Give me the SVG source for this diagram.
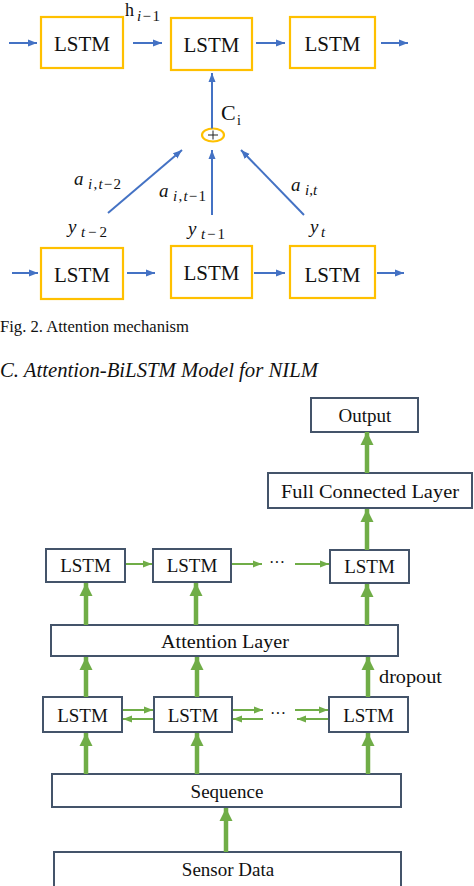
<svg xmlns="http://www.w3.org/2000/svg" width="474" height="886" viewBox="0 0 474 886">
<style>
text{fill:#111}
.ob{fill:#fff;stroke:#FFC000;stroke-width:2.2}
.gb{fill:#fff;stroke:#44546A;stroke-width:2}
.bl{stroke:#4472C4;stroke-width:2;fill:none}
.gt{stroke:#70AD47;stroke-width:2;fill:none}
.gk{stroke:#70AD47;stroke-width:4.5;fill:none}
.mi{font-style:italic}
</style>
<defs>
<marker id="ab" markerUnits="userSpaceOnUse" markerWidth="10" markerHeight="10" viewBox="0 0 10 10" refX="9" refY="5" orient="auto"><path d="M0,1.5 L9,5 L0,8.5 z" fill="#4472C4"/></marker>
<marker id="ag" markerUnits="userSpaceOnUse" markerWidth="10" markerHeight="10" viewBox="0 0 10 10" refX="9" refY="5" orient="auto"><path d="M0,1.5 L9,5 L0,8.5 z" fill="#70AD47"/></marker>
<marker id="agk" markerUnits="userSpaceOnUse" markerWidth="14" markerHeight="14" viewBox="0 0 14 14" refX="13" refY="7" orient="auto"><path d="M0,0.5 L13,7 L0,13.5 z" fill="#70AD47"/></marker>
</defs>

<!-- Figure 2: attention mechanism -->
<g id="top-lstm-1"><rect class="ob" x="41" y="17" width="82" height="51"/><text font-family="Liberation Serif" font-size="21" text-anchor="middle" x="82" y="51">LSTM</text></g>
<g id="top-lstm-2"><rect class="ob" x="171" y="18" width="81" height="52"/><text font-family="Liberation Serif" font-size="21" text-anchor="middle" x="211.5" y="52">LSTM</text></g>
<g id="top-lstm-3"><rect class="ob" x="290" y="17" width="85" height="51"/><text font-family="Liberation Serif" font-size="21" text-anchor="middle" x="332.5" y="51">LSTM</text></g>
<g id="bot-lstm-1"><rect class="ob" x="41" y="248" width="82" height="51"/><text font-family="Liberation Serif" font-size="21" text-anchor="middle" x="82" y="282">LSTM</text></g>
<g id="bot-lstm-2"><rect class="ob" x="171" y="246" width="81" height="52"/><text font-family="Liberation Serif" font-size="21" text-anchor="middle" x="211.5" y="280">LSTM</text></g>
<g id="bot-lstm-3"><rect class="ob" x="290" y="246" width="85" height="52"/><text font-family="Liberation Serif" font-size="21" text-anchor="middle" x="332.5" y="282">LSTM</text></g>
<g id="sum-node">
<ellipse cx="213" cy="135" rx="11" ry="6.5" fill="#fff" stroke="#FFC000" stroke-width="2.2"/>
<path d="M208,135 H218 M213,130.5 V139.5" stroke="#222" stroke-width="1"/>
</g>

<g id="connectors-fig2">
<line class="bl" x1="9" y1="43" x2="37" y2="43" marker-end="url(#ab)"/>
<line class="bl" x1="133" y1="43" x2="162" y2="43" marker-end="url(#ab)"/>
<line class="bl" x1="256" y1="43" x2="285" y2="43" marker-end="url(#ab)"/>
<line class="bl" x1="381" y1="43" x2="408" y2="43" marker-end="url(#ab)"/>
<line class="bl" x1="212" y1="128.5" x2="212" y2="73" marker-end="url(#ab)"/>
<line class="bl" x1="108" y1="213" x2="182" y2="150" marker-end="url(#ab)"/>
<line class="bl" x1="212" y1="215" x2="212" y2="150" marker-end="url(#ab)"/>
<line class="bl" x1="304" y1="215" x2="241" y2="150" marker-end="url(#ab)"/>
<line class="bl" x1="12" y1="273" x2="38" y2="273" marker-end="url(#ab)"/>
<line class="bl" x1="127" y1="273" x2="155" y2="273" marker-end="url(#ab)"/>
<line class="bl" x1="254" y1="273" x2="285" y2="273" marker-end="url(#ab)"/>
<line class="bl" x1="377" y1="273" x2="404" y2="273" marker-end="url(#ab)"/>
</g>

<g id="math-labels" font-family="Liberation Serif">
<text font-family="Liberation Serif" x="125" y="16" font-size="18">h</text><text font-family="Liberation Serif" x="137" y="21" font-size="15" textLength="23" lengthAdjust="spacing"><tspan class="mi">i</tspan>−1</text>
<text font-family="Liberation Serif" x="221" y="120" font-size="22">C</text><text font-family="Liberation Serif" x="237" y="125" font-size="14">i</text>
<text font-family="Liberation Serif" class="mi" x="74" y="185" font-size="19">a</text><text font-family="Liberation Serif" x="88" y="189" font-size="15" textLength="33" lengthAdjust="spacing"><tspan class="mi">i</tspan>,<tspan class="mi">t</tspan>−2</text>
<text font-family="Liberation Serif" class="mi" x="159" y="197" font-size="19">a</text><text font-family="Liberation Serif" x="173" y="201" font-size="15" textLength="33" lengthAdjust="spacing"><tspan class="mi">i</tspan>,<tspan class="mi">t</tspan>−1</text>
<text font-family="Liberation Serif" class="mi" x="291" y="191" font-size="19">a</text><text font-family="Liberation Serif" x="305" y="195" font-size="15"><tspan class="mi">i</tspan>,<tspan class="mi">t</tspan></text>
<text font-family="Liberation Serif" class="mi" x="68" y="233" font-size="19">y</text><text font-family="Liberation Serif" x="81" y="237" font-size="15" textLength="26" lengthAdjust="spacing"><tspan class="mi">t</tspan>−2</text>
<text font-family="Liberation Serif" class="mi" x="188" y="235" font-size="19">y</text><text font-family="Liberation Serif" x="201" y="239" font-size="15" textLength="24" lengthAdjust="spacing"><tspan class="mi">t</tspan>−1</text>
<text font-family="Liberation Serif" class="mi" x="310" y="233" font-size="19">y</text><text font-family="Liberation Serif" x="321" y="237" font-size="15"><tspan class="mi">t</tspan></text>
</g>

<text font-family="Liberation Serif" x="0" y="332" font-size="16" textLength="189" lengthAdjust="spacingAndGlyphs" fill="#333">Fig. 2. Attention mechanism</text>
<text font-family="Liberation Serif" x="0" y="377" font-size="21" font-style="italic" textLength="318" lengthAdjust="spacingAndGlyphs">C. Attention-BiLSTM Model for NILM</text>

<!-- Attention-BiLSTM model -->
<g id="output"><rect class="gb" x="311" y="398" width="107" height="34"/><text font-family="Liberation Serif" font-size="19" text-anchor="middle" x="365" y="422">Output</text></g>
<g id="full-connected"><rect class="gb" x="268" y="473" width="204" height="35"/><text font-family="Liberation Serif" font-size="19" text-anchor="middle" x="370" y="498" textLength="178" lengthAdjust="spacingAndGlyphs">Full Connected Layer</text></g>
<g id="lstm-a1"><rect class="gb" x="46" y="549" width="79" height="33"/><text font-family="Liberation Serif" font-size="19" text-anchor="middle" x="85.5" y="572">LSTM</text></g>
<g id="lstm-a2"><rect class="gb" x="153" y="549" width="78" height="33"/><text font-family="Liberation Serif" font-size="19" text-anchor="middle" x="192" y="572">LSTM</text></g>
<g id="lstm-a3"><rect class="gb" x="330" y="550" width="79" height="33"/><text font-family="Liberation Serif" font-size="19" text-anchor="middle" x="369.5" y="573">LSTM</text></g>
<text font-family="Liberation Serif" x="277" y="568" font-size="16" text-anchor="middle">···</text>
<g id="attention-layer"><rect class="gb" x="51" y="625" width="347" height="31"/><text font-family="Liberation Serif" font-size="19" text-anchor="middle" x="225" y="648" textLength="128" lengthAdjust="spacingAndGlyphs">Attention Layer</text></g>
<text font-family="Liberation Serif" x="379" y="683" font-size="19" textLength="63" lengthAdjust="spacingAndGlyphs">dropout</text>
<g id="lstm-b1"><rect class="gb" x="43" y="697" width="79" height="35"/><text font-family="Liberation Serif" font-size="19" text-anchor="middle" x="82.5" y="722">LSTM</text></g>
<g id="lstm-b2"><rect class="gb" x="154" y="697" width="78" height="35"/><text font-family="Liberation Serif" font-size="19" text-anchor="middle" x="193" y="722">LSTM</text></g>
<g id="lstm-b3"><rect class="gb" x="329" y="697" width="79" height="35"/><text font-family="Liberation Serif" font-size="19" text-anchor="middle" x="368.5" y="722">LSTM</text></g>
<text font-family="Liberation Serif" x="278" y="719" font-size="16" text-anchor="middle">···</text>
<g id="sequence"><rect class="gb" x="52" y="774" width="349" height="33"/><text font-family="Liberation Serif" font-size="19" text-anchor="middle" x="227" y="798">Sequence</text></g>
<g id="sensor-data"><rect class="gb" x="54" y="852" width="347" height="40"/><text font-family="Liberation Serif" font-size="19" text-anchor="middle" x="228" y="876">Sensor Data</text></g>

<g id="connectors-model">
<line class="gk" x1="367" y1="473" x2="367" y2="432" marker-end="url(#agk)"/>
<line class="gk" x1="367" y1="550" x2="367" y2="509" marker-end="url(#agk)"/>
<line class="gk" x1="86" y1="625" x2="86" y2="583" marker-end="url(#agk)"/>
<line class="gk" x1="196" y1="625" x2="196" y2="583" marker-end="url(#agk)"/>
<line class="gk" x1="367" y1="625" x2="367" y2="584" marker-end="url(#agk)"/>
<line class="gk" x1="86" y1="697" x2="86" y2="657" marker-end="url(#agk)"/>
<line class="gk" x1="197" y1="697" x2="197" y2="657" marker-end="url(#agk)"/>
<line class="gk" x1="368" y1="697" x2="368" y2="657" marker-end="url(#agk)"/>
<line class="gk" x1="86" y1="774" x2="86" y2="733" marker-end="url(#agk)"/>
<line class="gk" x1="197" y1="774" x2="197" y2="733" marker-end="url(#agk)"/>
<line class="gk" x1="368" y1="774" x2="368" y2="733" marker-end="url(#agk)"/>
<line class="gk" x1="226" y1="852" x2="226" y2="808" marker-end="url(#agk)"/>
<line class="gt" x1="126" y1="564" x2="152" y2="564" marker-end="url(#ag)"/>
<line class="gt" x1="232" y1="564" x2="262" y2="564" marker-end="url(#ag)"/>
<line class="gt" x1="295" y1="564" x2="329" y2="564" marker-end="url(#ag)"/>
<line class="gt" x1="123" y1="710" x2="153" y2="710" marker-end="url(#ag)"/>
<line class="gt" x1="153" y1="719" x2="123" y2="719" marker-end="url(#ag)"/>
<line class="gt" x1="233" y1="710" x2="263" y2="710" marker-end="url(#ag)"/>
<line class="gt" x1="263" y1="719" x2="233" y2="719" marker-end="url(#ag)"/>
<line class="gt" x1="295" y1="710" x2="328" y2="710" marker-end="url(#ag)"/>
<line class="gt" x1="328" y1="719" x2="297" y2="719" marker-end="url(#ag)"/>
</g>
</svg>
